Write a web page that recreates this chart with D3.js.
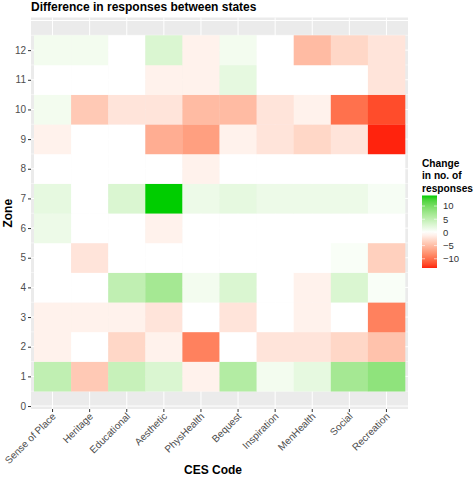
<!DOCTYPE html>
<html>
<head>
<meta charset="utf-8">
<script src="https://cdn.jsdelivr.net/npm/d3@7"></script>
<style>
  body { margin: 0; background: #fff; }
  text { font-family: "Liberation Sans", Arial, sans-serif; }
</style>
</head>
<body>
<div id="wrapper"></div>
<script>
// categories
const codes = ["Sense of Place", "Heritage", "Educational", "Aesthetic", "PhysHealth",
  "Bequest", "Inspiration", "MenHealth", "Social", "Recreation"]
const zoneTicks = [0, 1, 2, 3, 4, 5, 6, 7, 8, 9, 10, 11, 12]
const legendTicks = [10, 5, 0, -5, -10]

// change in no. of responses, one array per zone, in the order of codes
const zone1  = [5, -4, 4.5, 3, -1, 6, 1, 2, 7, 8.5]
const zone2  = [-1, 0, -3, -1, -9, 0, -2, -2, -3, -4.5]
const zone3  = [-1, -1, -1, -2, 0, -2, 0, -1, 0, -9]
const zone4  = [0, 0, 5, 7, 1, 3, 0, -1, 3, 0.5]
const zone5  = [0, -2, 0, 0, 0, 0, 0, 0, 0.5, -3.5]
const zone6  = [1.5, 0, 0, -1, 0, 0, 0, 0, 0, 0]
const zone7  = [2, 0, 3, 14, 1.5, 2, 1.5, 1.5, 1.5, 0.7]
const zone8  = [0, 0, 0, 0, -1, 0, 0, 0, 0, 0]
const zone9  = [-1, 0, 0, -6, -7, -1, -2, -3, -2, -13.5]
const zone10 = [1, -4, -2, -2, -5, -5, -2, -1, -10, -12]
const zone11 = [0, 0, 0, -1, -1, 2, 0, 0, 0, -2]
const zone12 = [1, 1, 0, 3, -1, 1, 0, -5, -3, -2]

const zoneRows = [zone1, zone2, zone3, zone4, zone5, zone6, zone7, zone8, zone9, zone10, zone11, zone12]
const cells = []
zoneRows.forEach((row, i) => {
  row.forEach((v, j) => cells.push({ zone: i + 1, code: codes[j], value: v }))
})

const dimensions = {
  width: 474,
  height: 478,
  panel: { left: 31, right: 408, top: 17.5, bottom: 409 }
}

const svg = d3.select("#wrapper")
  .append("svg")
  .attr("width", dimensions.width)
  .attr("height", dimensions.height)

const p = dimensions.panel

// scales
const xScale = d3.scaleBand()
  .domain(codes)
  .range([p.left + 3, p.right - 3])
  .padding(0)

const yScale = d3.scaleLinear()
  .domain([-0.1, 13.1])
  .range([p.bottom, p.top])

const extent = d3.extent(cells, d => d.value)
const maxAbs = d3.max(extent, Math.abs)
const lo = d3.interpolateLab("white", "red")
const hi = d3.interpolateLab("white", "#00CD00")
const colorScale = v => v >= 0 ? hi(v / maxAbs) : lo(-v / maxAbs)

// panel background and grid
svg.append("rect")
  .attr("x", p.left).attr("y", p.top)
  .attr("width", p.right - p.left).attr("height", p.bottom - p.top)
  .attr("fill", "#EBEBEB")

const minorY = d3.range(-0.5, 13.5, 1).filter(v => v > -0.1 && v < 13.1)
svg.append("g").selectAll("line")
  .data(minorY)
  .join("line")
  .attr("x1", p.left).attr("x2", p.right)
  .attr("y1", d => yScale(d)).attr("y2", d => yScale(d))
  .attr("stroke", "#fff").attr("stroke-width", 0.5)

svg.append("g").selectAll("line")
  .data(zoneTicks.concat([13]))
  .join("line")
  .attr("x1", p.left).attr("x2", p.right)
  .attr("y1", d => yScale(d)).attr("y2", d => yScale(d))
  .attr("stroke", "#fff").attr("stroke-width", 1)

svg.append("g").selectAll("line")
  .data(codes)
  .join("line")
  .attr("x1", d => xScale(d) + xScale.bandwidth() / 2)
  .attr("x2", d => xScale(d) + xScale.bandwidth() / 2)
  .attr("y1", p.top).attr("y2", p.bottom)
  .attr("stroke", "#fff").attr("stroke-width", 1)

// tiles
svg.append("g").selectAll("rect")
  .data(cells)
  .join("rect")
  .attr("x", d => xScale(d.code))
  .attr("y", d => yScale(d.zone + 0.5))
  .attr("width", xScale.bandwidth() + 0.3)
  .attr("height", yScale(0) - yScale(1) + 0.3)
  .attr("fill", d => colorScale(d.value))

// axes
const yAxis = svg.append("g")
  .attr("transform", `translate(${p.left},0)`)
  .call(d3.axisLeft(yScale).tickValues(zoneTicks).tickSize(3).tickPadding(2))
yAxis.select(".domain").remove()
yAxis.selectAll(".tick line").attr("stroke", "#333")
yAxis.selectAll(".tick text")
  .attr("fill", "#4D4D4D")
  .style("font-size", "10px")
  .style("font-family", "Liberation Sans, Arial, sans-serif")

const xAxis = svg.append("g")
  .attr("transform", `translate(0,${p.bottom})`)
  .call(d3.axisBottom(xScale).tickSize(3).tickPadding(2))
xAxis.select(".domain").remove()
xAxis.selectAll(".tick line").attr("stroke", "#333")
xAxis.selectAll(".tick text")
  .attr("fill", "#4D4D4D")
  .style("font-size", "10px")
  .style("font-family", "Liberation Sans, Arial, sans-serif")
  .attr("text-anchor", "end")
  .attr("dy", null)
  .attr("y", null)
  .attr("transform", "translate(4,8) rotate(-45)")

// titles
svg.append("text")
  .attr("x", p.left)
  .attr("y", 11)
  .style("font-size", "12px")
  .style("font-weight", "bold")
  .text("Difference in responses between states")

svg.append("text")
  .attr("x", 213)
  .attr("y", 474)
  .attr("text-anchor", "middle")
  .style("font-size", "12px")
  .style("font-weight", "bold")
  .text("CES Code")

svg.append("text")
  .attr("transform", `translate(12,${(p.top + p.bottom) / 2}) rotate(-90)`)
  .attr("text-anchor", "middle")
  .style("font-size", "12px")
  .style("font-weight", "bold")
  .text("Zone")

// legend
const legend = { x: 422, width: 15, top: 195.5, bottom: 268 }
const legendScale = d3.scaleLinear()
  .domain(extent)
  .range([legend.bottom, legend.top])

const grad = svg.append("defs").append("linearGradient")
  .attr("id", "bar")
  .attr("x1", 0).attr("x2", 0).attr("y1", 1).attr("y2", 0)
grad.selectAll("stop")
  .data(d3.range(0, 1.0001, 0.05))
  .join("stop")
  .attr("offset", d => d)
  .attr("stop-color", d => colorScale(extent[0] + d * (extent[1] - extent[0])))

const legendTitle = ["Change", "in no. of", "responses"]
svg.append("g").selectAll("text")
  .data(legendTitle)
  .join("text")
  .attr("x", legend.x)
  .attr("y", (d, i) => 166.5 + i * 12.8)
  .style("font-size", "10.2px")
  .style("font-weight", "bold")
  .text(d => d)

svg.append("rect")
  .attr("x", legend.x).attr("y", legend.top)
  .attr("width", legend.width).attr("height", legend.bottom - legend.top)
  .attr("fill", "url(#bar)")

const lt = svg.append("g")
lt.selectAll("line.l")
  .data(legendTicks)
  .join("line")
  .attr("x1", legend.x).attr("x2", legend.x + 3)
  .attr("y1", d => legendScale(d)).attr("y2", d => legendScale(d))
  .attr("stroke", "#fff").attr("stroke-width", 0.6)
lt.selectAll("line.r")
  .data(legendTicks)
  .join("line")
  .attr("x1", legend.x + legend.width - 3).attr("x2", legend.x + legend.width)
  .attr("y1", d => legendScale(d)).attr("y2", d => legendScale(d))
  .attr("stroke", "#fff").attr("stroke-width", 0.6)
lt.selectAll("text")
  .data(legendTicks)
  .join("text")
  .attr("x", legend.x + legend.width + 6)
  .attr("y", d => legendScale(d))
  .attr("dy", "0.35em")
  .attr("fill", "#333")
  .style("font-size", "9.5px")
  .text(d => d < 0 ? "\u2212" + Math.abs(d) : d)
</script>
</body>
</html>
